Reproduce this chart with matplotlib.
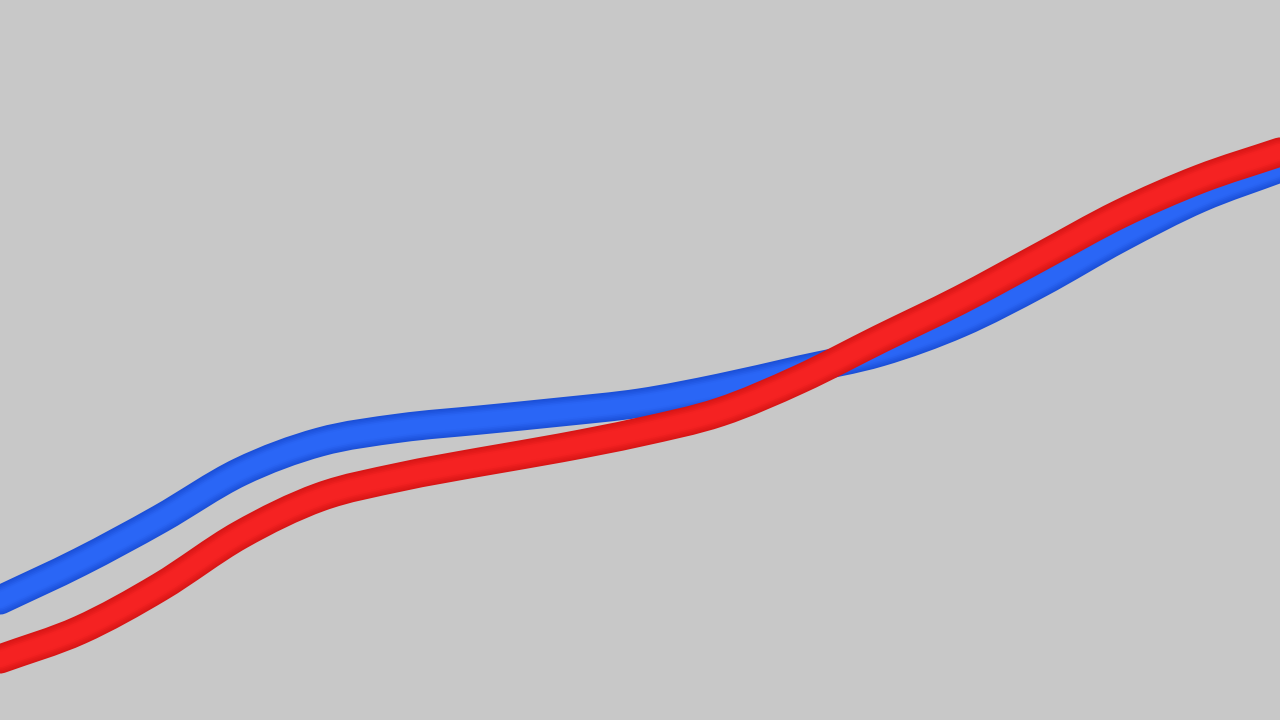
import matplotlib
matplotlib.use("Agg")
import numpy as np
import matplotlib.pyplot as plt
from matplotlib.path import Path
from matplotlib.patches import PathPatch
from matplotlib.colors import to_rgb

# Data (x position, value)
x_vals = [0, 80, 160, 240, 320, 400, 480, 560, 640, 720, 800, 880, 960, 1040, 1120, 1200, 1280]
blue_vals = [120, 158, 201, 248, 278, 292, 300, 308, 317, 332, 350, 368, 397, 437, 482, 522, 552]
red_vals = [61, 90, 133, 185, 223, 243, 258, 272, 288, 308, 341, 381, 420, 463, 506, 541, 568]

BG = "#c8c8c8"
BLUE_EDGE, BLUE_MID = "#1c50d8", "#2a66f6"
RED_EDGE, RED_MID = "#d81616", "#f52222"

fig = plt.figure(figsize=(12.8, 7.2), dpi=100, facecolor=BG)
ax = fig.add_axes([0, 0, 1, 1])
ax.set_facecolor(BG)
ax.set_xlim(0, 1280)
ax.set_ylim(0, 720)
ax.axis("off")

LW = 21


def smooth_path(xs, ys):
    p = np.column_stack([xs, ys]).astype(float)
    ext = np.vstack([2 * p[0] - p[1], p, 2 * p[-1] - p[-2]])
    verts = [p[0]]
    codes = [Path.MOVETO]
    for i in range(1, len(ext) - 2):
        p0, p1, p2, p3 = ext[i - 1], ext[i], ext[i + 1], ext[i + 2]
        c1 = p1 + (p2 - p0) / 6.0
        c2 = p2 - (p3 - p1) / 6.0
        verts += [c1, c2, p2]
        codes += [Path.CURVE4] * 3
    return Path(np.array(verts), codes)


def tube(xs, ys, edge, mid, z):
    path = smooth_path(xs, ys)
    e = np.array(to_rgb(edge))
    m = np.array(to_rgb(mid))
    steps = 8
    for k in range(steps):
        t = k / (steps - 1)
        w = LW * (1 - 0.75 * t)
        col = e + (m - e) * min(1.0, t * 1.6)
        ax.add_patch(PathPatch(path, fill=False, edgecolor=tuple(col), lw=w,
                               capstyle="round", joinstyle="round", zorder=z))


tube(x_vals, blue_vals, BLUE_EDGE, BLUE_MID, 2)
tube(x_vals, red_vals, RED_EDGE, RED_MID, 3)

fig.savefig("out.png", dpi=100, facecolor=BG)
